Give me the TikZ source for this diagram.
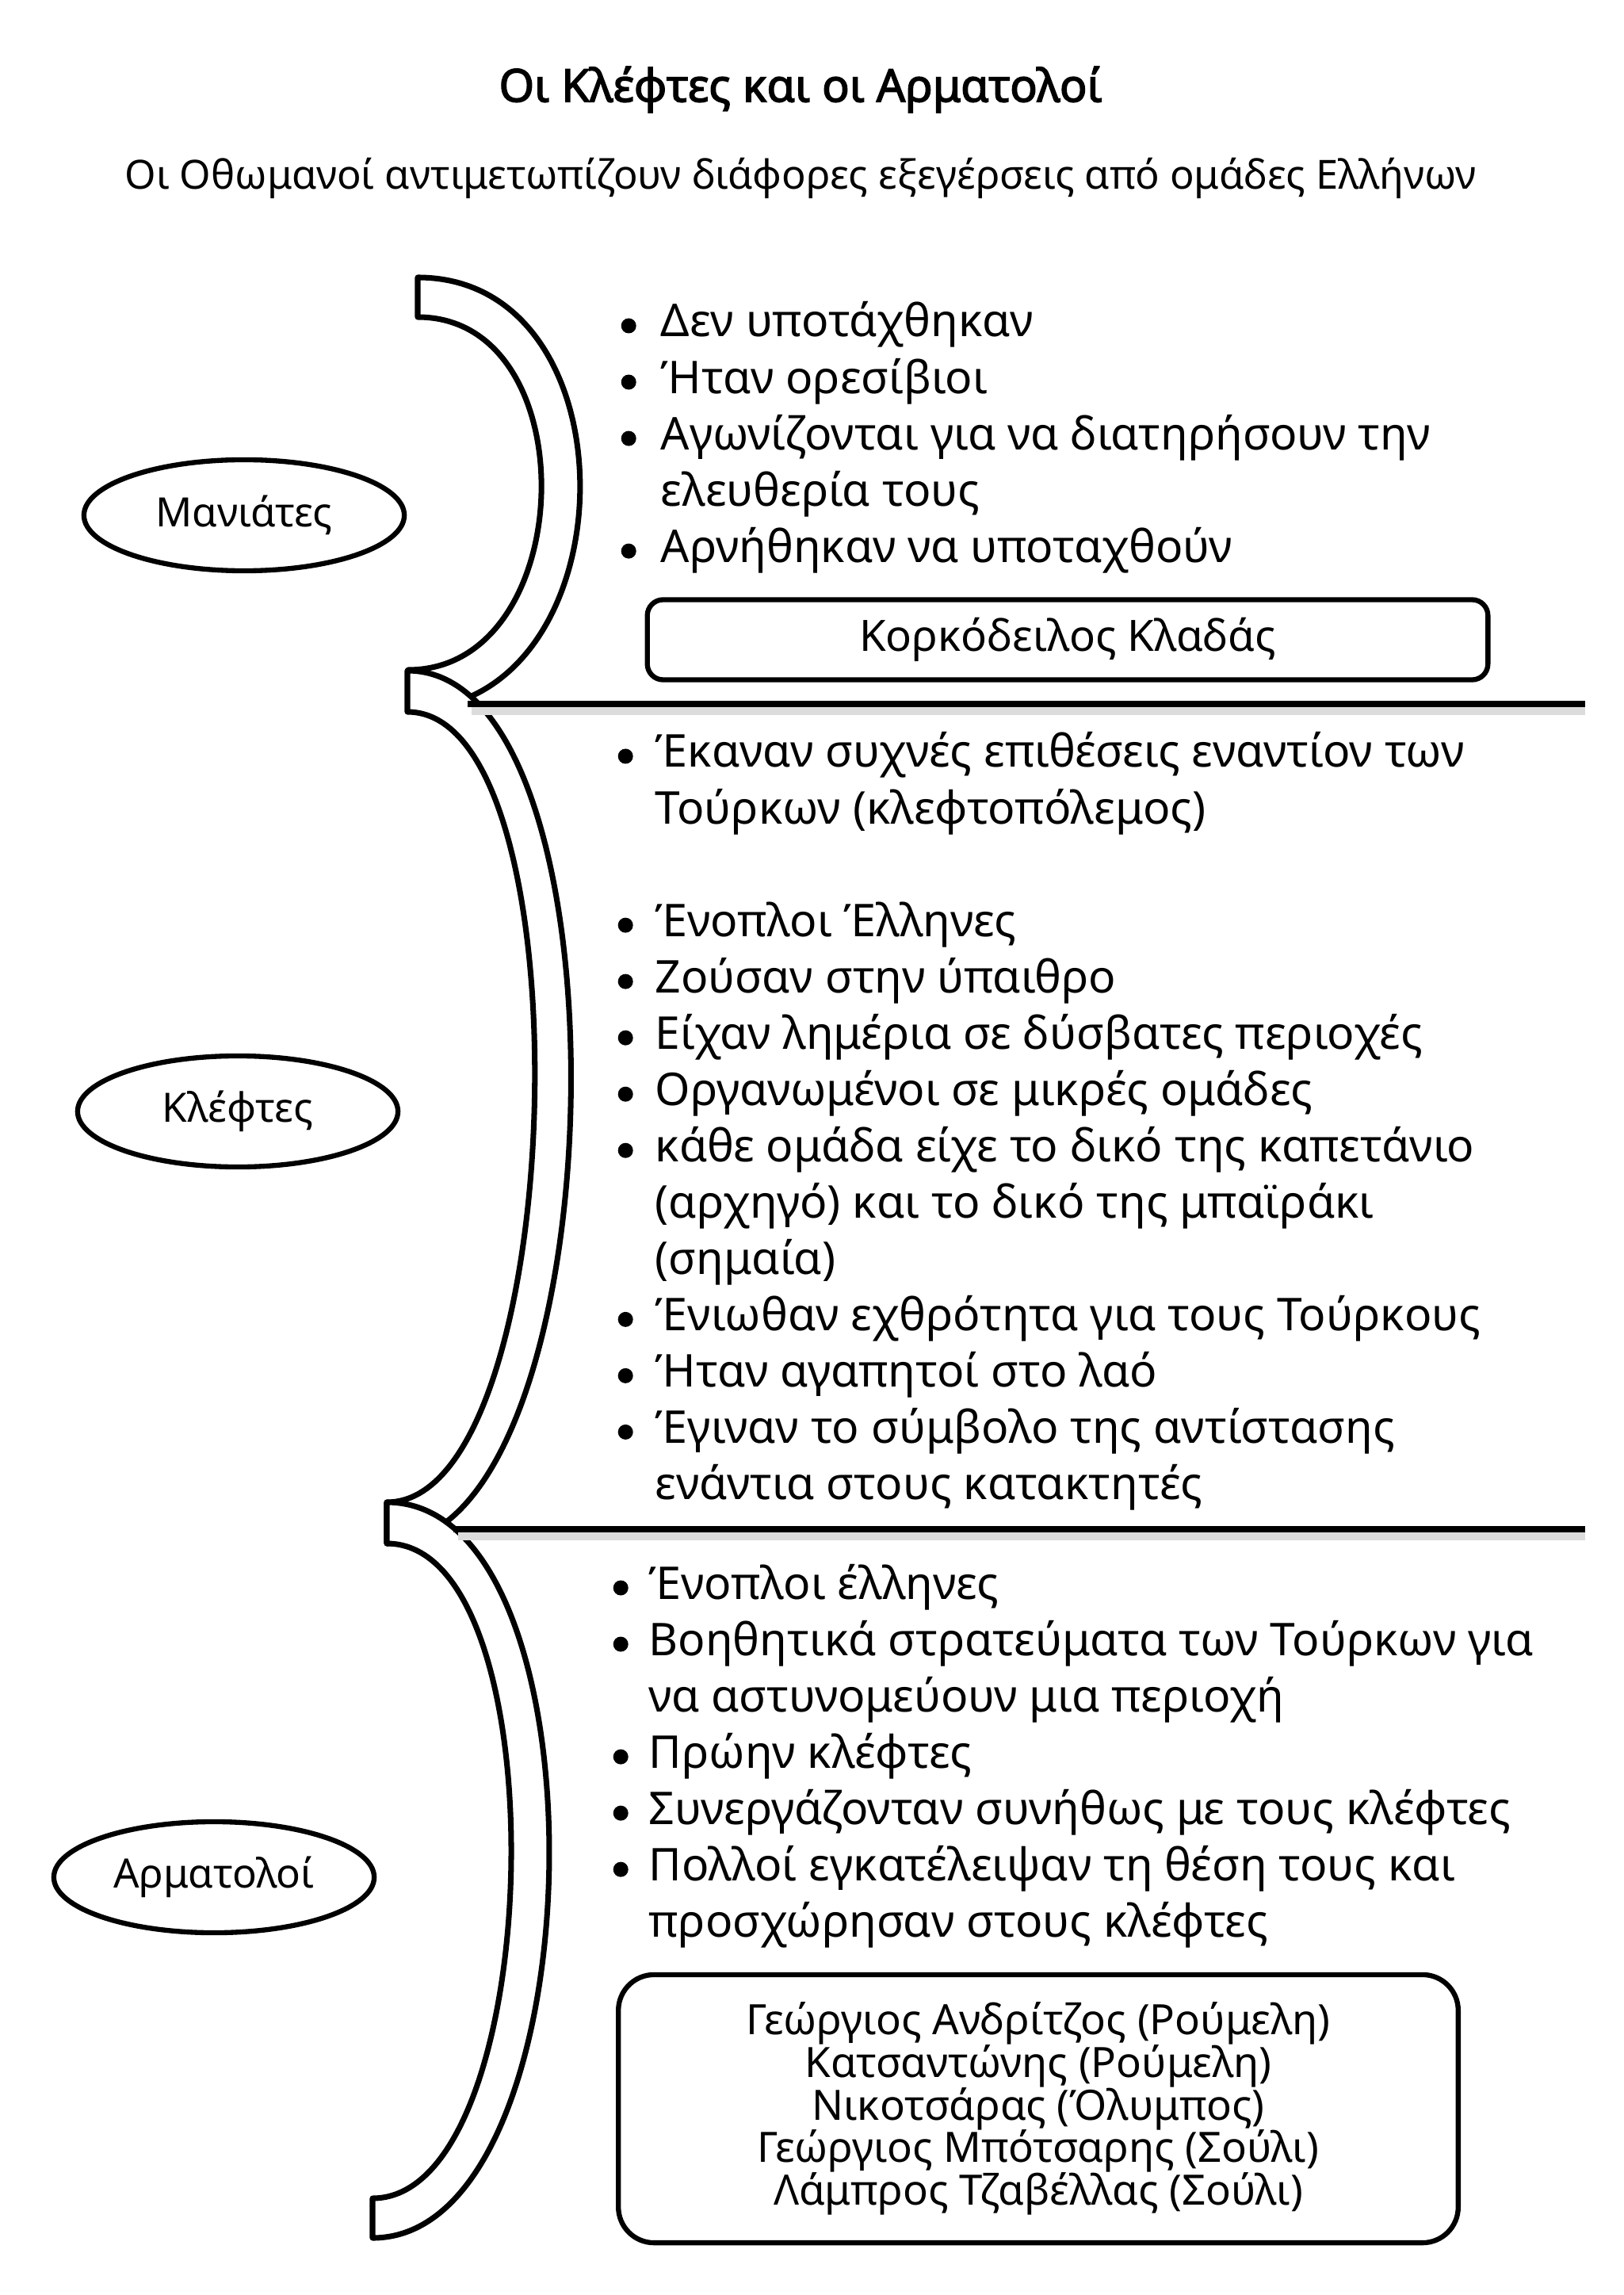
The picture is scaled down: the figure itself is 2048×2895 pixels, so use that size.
\documentclass[tikz,border=0pt]{standalone}
\usepackage{fontspec}
\setmainfont{Noto Sans}
\newfontfamily\titelfont{Noto Sans}[FakeBold=2.5]
\usepackage{tikz}
\usetikzlibrary{shapes.geometric}
\definecolor{schatten}{HTML}{DCDCDC}
\newcommand{\punkt}{\tikz[baseline=-0.14cm]\fill (0,0) circle (0.095cm);}
\newcommand{\engzeilen}{\fontsize{15}{15.3}\selectfont\lineskiplimit=-20pt\relax}

\begin{document}
\begin{tikzpicture}[x=0.01cm, y=-0.01cm,
    gruppe/.style={draw, ellipse, line width=1.8pt, minimum width=4.04cm, minimum height=1.40cm, inner sep=0pt, font=\fontsize{14.5}{17}\selectfont},
    kasten/.style={draw, line width=1.8pt, inner sep=0pt},
    klammer/.style={draw, fill=white, line width=2pt, line join=round},
    liste/.style={anchor=base west, inner sep=0pt, font=\fontsize{16.2}{20.2}\selectfont}
]
  \useasboundingbox (0,0) rectangle (2048,2895);

  % Titel
  \node[font=\titelfont\fontsize{16.3}{19}\selectfont] (titel) at (1010,113) {Οι Κλέφτες και οι Αρματολοί};
  \node[font=\fontsize{14.4}{17}\selectfont] (untertitel) at (1010,225) {Οι Οθωμανοί αντιμετωπίζουν διάφορες εξεγέρσεις από ομάδες Ελλήνων};

  % Klammern (von oben nach unten, jede überdeckt die vorige)
  \draw[klammer] (527,350) .. controls (808,350) and (796,895) .. (515,895) -- (515,845) .. controls (731,845) and (743,400) .. (527,400) -- cycle;
  \draw[klammer] (514,846) .. controls (806,846) and (780,1947) .. (488,1947) -- (488,1895) .. controls (719,1895) and (745,898) .. (514,898) -- cycle;
  \draw[klammer] (488,1895) .. controls (773,1895) and (755,2823) .. (470,2823) -- (470,2773) .. controls (691,2773) and (709,1947) .. (488,1947) -- cycle;

  % Trennlinien
  \draw[schatten, line width=3pt] (595,897) -- (2000,897);
  \draw[schatten, line width=3pt] (578,1938) -- (2000,1938);
  \draw[line width=2.3pt] (590,888) -- (2000,888);
  \draw[line width=2.3pt] (572,1929) -- (2000,1929);

  % Gruppen
  \node[gruppe] (maniates) at (308,650) {Μανιάτες};
  \node[gruppe] (klefts) at (300,1402) {Κλέφτες};
  \node[gruppe] (armatoloi) at (270,2368) {Αρματολοί};

  % Merkmale der Maniaten
  \node[liste] (maniates-liste) at (783,425) {\begin{tabular}[t]{@{}p{0.5cm}@{}l@{}}
    \punkt & Δεν υποτάχθηκαν\\
    \punkt & Ήταν ορεσίβιοι\\
    \punkt & Αγωνίζονται για να διατηρήσουν την\\
           & ελευθερία τους\\
    \punkt & Αρνήθηκαν να υποταχθούν
  \end{tabular}};
  \node[kasten, rounded corners=0.2cm, minimum width=10.6cm, minimum height=1.01cm, font=\fontsize{15.5}{18}\selectfont] (kladas) at (1347,807) {Κορκόδειλος Κλαδάς};

  % Merkmale der Klephten
  \node[liste] (klefts-liste) at (779,968) {\begin{tabular}[t]{@{}p{0.47cm}@{}l@{}}
    \punkt & Έκαναν συχνές επιθέσεις εναντίον των\\
           & Τούρκων (κλεφτοπόλεμος)\\
           & \\
    \punkt & Ένοπλοι Έλληνες\\
    \punkt & Ζούσαν στην ύπαιθρο\\
    \punkt & Είχαν λημέρια σε δύσβατες περιοχές\\
    \punkt & Οργανωμένοι σε μικρές ομάδες\\
    \punkt & κάθε ομάδα είχε το δικό της καπετάνιο\\
           & (αρχηγό) και το δικό της μπαϊράκι\\
           & (σημαία)\\
    \punkt & Ένιωθαν εχθρότητα για τους Τούρκους\\
    \punkt & Ήταν αγαπητοί στο λαό\\
    \punkt & Έγιναν το σύμβολο της αντίστασης\\
           & ενάντια στους κατακτητές
  \end{tabular}};

  % Merkmale der Armatolen
  \node[liste] (armatoloi-liste) at (773,2017) {\begin{tabular}[t]{@{}p{0.45cm}@{}l@{}}
    \punkt & Ένοπλοι έλληνες\\
    \punkt & Βοηθητικά στρατεύματα των Τούρκων για\\
           & να αστυνομεύουν μια περιοχή\\
    \punkt & Πρώην κλέφτες\\
    \punkt & Συνεργάζονταν συνήθως με τους κλέφτες\\
    \punkt & Πολλοί εγκατέλειψαν τη θέση τους και\\
           & προσχώρησαν στους κλέφτες
  \end{tabular}};
  \node[kasten, rounded corners=0.45cm, minimum width=10.59cm, minimum height=3.38cm, align=center, font=\engzeilen] (oplarchen) at (1310,2660) {Γεώργιος Ανδρίτζος (Ρούμελη)\\Κατσαντώνης (Ρούμελη)\\Νικοτσάρας (Όλυμπος)\\Γεώργιος Μπότσαρης (Σούλι)\\Λάμπρος Τζαβέλλας (Σούλι)};

\end{tikzpicture}
\end{document}
